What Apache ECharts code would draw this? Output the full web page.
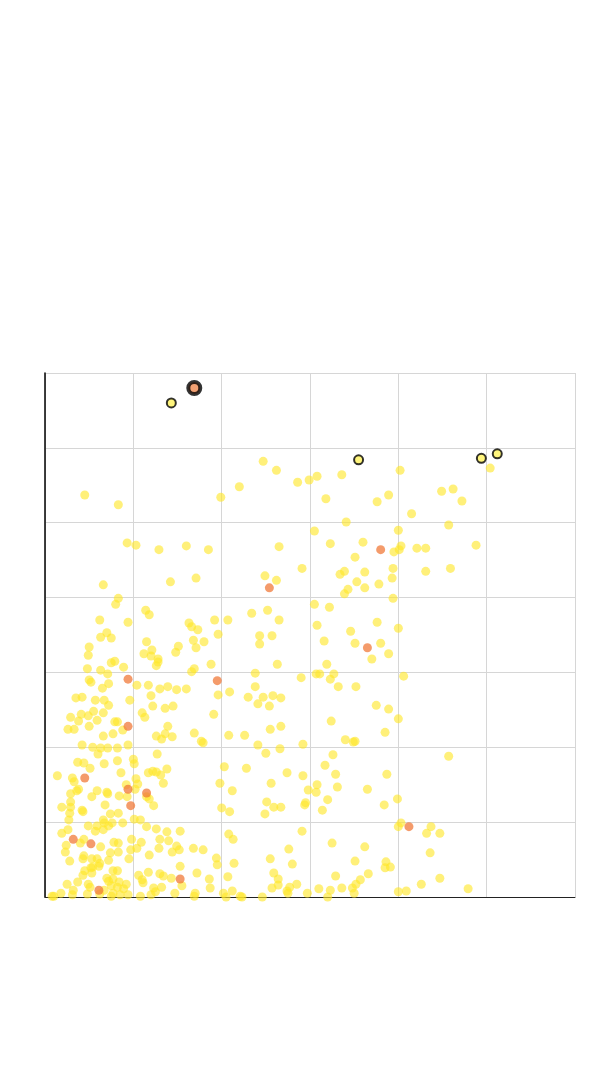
<!DOCTYPE html>
<html>
<head>
<meta charset="utf-8">
<style>
    html, body { margin: 0; padding: 0; background: #fff; }
    #main { width: 608px; height: 1074px; }
</style>
<script src="https://cdn.jsdelivr.net/npm/echarts@6/dist/echarts.min.js"></script>
</head>
<body>
<div id="main"></div>
<script>
// axis ranges
var xMax = 60, xStep = 10;
var yMax = 70, yStep = 10;

// plain points [x, y]
var yellowPoints = [
    [24.7, 58.2], [26.2, 57.0], [50.4, 57.3], [40.2, 57.0], [30.8, 56.2], [29.9, 55.7], [28.6, 55.4], [33.6, 56.4],
    [46.2, 54.5], [44.9, 54.2], [47.2, 52.9], [38.9, 53.7], [37.6, 52.8], [22.0, 54.8], [19.9, 53.4], [4.5, 53.7],
    [8.3, 52.4], [31.8, 53.2], [41.5, 51.2], [34.1, 50.1], [45.7, 49.7],
    [40.0, 49.0], [30.5, 48.9], [40.3, 46.9], [40.1, 46.4], [42.1, 46.6], [43.1, 46.6], [48.8, 47.0], [43.1, 43.5],
    [45.9, 43.9], [32.3, 47.2], [36.0, 47.4], [39.5, 46.1], [35.1, 45.4], [26.5, 46.8], [29.1, 43.9], [33.9, 43.5],
    [33.4, 43.1], [36.2, 43.4], [39.4, 43.9], [24.9, 42.9], [26.2, 42.3], [35.3, 42.1], [37.8, 41.8], [39.3, 42.6],
    [36.2, 41.3], [34.3, 41.1], [33.9, 40.5], [39.4, 39.9], [9.3, 47.3], [10.3, 47.0], [12.9, 46.4], [16.0, 46.9],
    [18.5, 46.4], [6.6, 41.7], [14.2, 42.1], [17.1, 42.6], [8.3, 39.9],
    [8.0, 39.1], [11.4, 38.3], [11.8, 37.7], [6.2, 37.0], [9.4, 36.7], [7.0, 35.3], [6.3, 34.7], [7.5, 34.6],
    [5.0, 33.4], [4.9, 32.3], [11.5, 34.1], [12.1, 33.0], [11.2, 32.5], [12.0, 32.2], [12.8, 31.8], [12.8, 31.4],
    [12.6, 30.9], [15.1, 33.5], [14.8, 32.7], [16.3, 36.6], [16.6, 36.1], [17.3, 35.7], [19.2, 37.0], [19.6, 35.1],
    [16.8, 34.3], [17.1, 33.3], [18.0, 34.1], [18.8, 31.1], [16.9, 30.5], [16.6, 30.1], [4.8, 30.5], [6.3, 30.3],
    [7.1, 29.8], [7.5, 31.3], [7.9, 31.5], [8.9, 30.7], [5.0, 29.0], [5.2, 28.7], [10.4, 28.3], [11.7, 28.3],
    [13.0, 27.8], [13.9, 28.1], [14.9, 27.7], [16.0, 27.8], [19.6, 27.0], [7.2, 28.5], [6.5, 27.9],
    [3.5, 26.6], [4.2, 26.7], [5.7, 26.3], [6.7, 26.3], [7.2, 25.6], [9.6, 26.3], [12.0, 26.9], [12.2, 25.5],
    [13.6, 25.2], [14.5, 25.5], [5.5, 24.8], [6.6, 24.6], [4.1, 24.4], [4.9, 24.2], [2.9, 24.0], [3.8, 23.5],
    [5.9, 23.6], [7.9, 23.4], [8.2, 23.4], [11.0, 24.6], [11.3, 24.0], [19.1, 24.4], [2.6, 22.4], [3.3, 22.4],
    [5.0, 22.8], [8.8, 22.3], [13.9, 22.8], [6.6, 21.5], [7.7, 21.8], [12.6, 21.5], [13.2, 21.1], [13.6, 21.8],
    [14.4, 21.4], [16.9, 21.9], [17.7, 20.8], [17.9, 20.6], [4.2, 20.3], [5.4, 20.0], [6.3, 19.9], [7.1, 19.9],
    [8.2, 19.9], [9.4, 20.3],
    [30.5, 39.1], [32.2, 38.7], [23.4, 37.9], [25.2, 38.3], [20.7, 37.0], [26.5, 37.0], [30.8, 36.3], [24.3, 34.9],
    [25.7, 34.9], [24.3, 33.8], [34.6, 35.5], [37.6, 36.7], [40.0, 35.9], [31.6, 34.2], [35.1, 33.9], [38.0, 33.9],
    [37.0, 31.8], [38.9, 32.5], [26.3, 31.1], [31.9, 31.1], [23.8, 29.9], [29.0, 29.3], [30.7, 29.8], [31.1, 29.8],
    [32.7, 29.8], [32.3, 29.1], [33.2, 28.1], [35.2, 28.1], [23.8, 28.1], [20.9, 27.4], [23.0, 26.7], [24.7, 26.7],
    [25.8, 26.9], [26.7, 26.6], [24.1, 25.8], [25.4, 25.5], [37.5, 25.6], [38.9, 25.1], [40.0, 23.8], [32.4, 23.5],
    [25.5, 22.4], [26.7, 22.8], [38.5, 22.0], [20.8, 21.6], [22.6, 21.6], [34.0, 21.0], [34.9, 20.7], [35.1, 20.8],
    [24.1, 20.3], [29.2, 20.4], [26.6, 19.8], [40.6, 29.5],
    [25.0, 19.2], [32.6, 19.0], [20.3, 17.4], [22.8, 17.2], [31.7, 17.6], [32.9, 16.4], [38.7, 16.4], [27.4, 16.6],
    [29.2, 16.2], [25.6, 15.2], [21.2, 14.2], [19.8, 15.2], [29.8, 14.3], [30.8, 15.0], [30.7, 14.0], [33.1, 14.7],
    [36.5, 14.4], [39.9, 13.1], [25.1, 12.7], [25.9, 12.0], [26.7, 12.0], [29.4, 12.3], [29.5, 12.6], [20.9, 11.4],
    [20.0, 11.9], [24.9, 11.1], [32.0, 13.0], [31.4, 11.6], [38.4, 12.3], [29.1, 8.8], [20.8, 8.4], [21.3, 7.7],
    [32.5, 7.2], [36.2, 6.7], [40.0, 9.4], [27.6, 6.4], [25.5, 5.1], [28.0, 4.4], [21.4, 4.5], [35.1, 4.8],
    [38.6, 4.7], [38.5, 3.9], [39.1, 4.0], [20.7, 2.7], [25.9, 3.2], [26.4, 2.4], [26.4, 1.6], [25.7, 1.2],
    [32.9, 2.8], [36.6, 3.1], [35.7, 2.3], [35.2, 1.7], [34.8, 1.2], [35.0, 0.5], [21.2, 0.8], [27.7, 1.3],
    [28.5, 1.7], [27.4, 0.8], [27.5, 0.5], [31.0, 1.1], [32.3, 0.9], [33.6, 1.2], [40.0, 0.7], [20.2, 0.5],
    [20.5, 0.0], [22.1, 0.1], [22.3, 0.0], [24.6, 0.0], [29.7, 0.5], [32.0, 0.0],
    [45.7, 18.8], [40.3, 9.9], [43.7, 9.4], [43.2, 8.5], [44.7, 8.5], [43.6, 5.9], [44.7, 2.5], [42.6, 1.7],
    [40.9, 0.8], [47.9, 1.1],
    [6.0, 19.1], [12.7, 19.1], [3.7, 18.0], [4.4, 17.9], [6.7, 17.8], [8.2, 18.2], [10.0, 18.4], [10.1, 17.8],
    [1.4, 16.2], [3.1, 15.9], [3.3, 15.4], [5.1, 17.2], [8.6, 16.6], [11.7, 16.6], [12.2, 16.8], [12.6, 16.7],
    [13.1, 16.3], [13.8, 17.1], [10.3, 15.8], [10.5, 15.1], [3.8, 14.4], [3.6, 14.2], [5.9, 14.2], [7.0, 14.0],
    [7.1, 13.8], [2.9, 13.8], [8.4, 13.5], [9.2, 15.0], [9.3, 13.4], [10.2, 14.4], [11.5, 13.4], [11.8, 13.1],
    [13.4, 15.2], [12.3, 12.2], [2.9, 12.7], [2.9, 12.0], [1.9, 12.0], [5.3, 13.4], [6.8, 12.3], [4.2, 11.6],
    [4.3, 11.4], [2.8, 11.2], [7.4, 11.1], [8.3, 11.2], [6.6, 10.3], [7.6, 9.9], [8.8, 9.9], [10.1, 10.4],
    [10.8, 10.3], [2.7, 10.3], [2.6, 9.0], [1.9, 8.5], [4.4, 7.7], [4.0, 7.2], [4.9, 9.5], [5.9, 9.5],
    [6.7, 9.9], [5.7, 8.8], [6.6, 9.0], [7.2, 9.5], [7.8, 7.3], [8.3, 7.2], [2.4, 6.9], [2.3, 6.0],
    [2.8, 4.8], [6.3, 6.7], [7.4, 5.9], [8.3, 6.0], [4.4, 5.5], [4.3, 5.1], [5.3, 5.1], [5.9, 5.1],
    [7.2, 4.9], [9.5, 5.1], [9.8, 7.7], [9.7, 6.3], [10.4, 6.5], [10.9, 7.3], [11.5, 9.4], [12.6, 9.1],
    [13.8, 8.7], [15.3, 8.8], [16.8, 6.5], [17.9, 6.3], [14.9, 6.8], [15.2, 6.3], [13.0, 7.7], [12.9, 6.5],
    [14.0, 7.5], [14.4, 6.0], [11.8, 5.6], [5.2, 3.9], [5.4, 4.0], [6.1, 4.1], [6.2, 4.5], [4.5, 3.5],
    [4.3, 2.9], [5.3, 3.2], [7.7, 3.5], [8.2, 3.5], [2.5, 1.7], [3.2, 0.9], [3.7, 2.0], [4.9, 1.7],
    [5.1, 1.3], [7.0, 2.5], [7.2, 2.1], [7.7, 2.4], [8.4, 2.0], [9.2, 1.7], [7.5, 1.5], [8.2, 1.3],
    [8.9, 1.1], [10.6, 2.9], [11.7, 3.3], [13.0, 3.1], [13.4, 2.8], [14.3, 2.5], [15.3, 4.1], [15.5, 1.5],
    [11.0, 2.3], [11.1, 1.9], [17.2, 3.2], [18.6, 2.4], [19.4, 5.2], [19.5, 4.3], [18.7, 1.2], [17.0, 0.5],
    [16.9, 0.1], [14.7, 0.5], [13.2, 1.3], [12.3, 1.2], [12.5, 0.7], [12.0, 0.3], [10.8, 0.1], [9.4, 0.3],
    [8.5, 0.3], [7.5, 0.1], [6.2, 0.4], [4.8, 0.4], [3.1, 0.3], [1.8, 0.5], [1.0, 0.1], [0.8, 0.1],
    [7.7, 0.5], [6.7, 0.9]
];

var orangePoints = [
    [38.0, 46.4], [25.4, 41.3], [9.4, 29.1], [19.5, 28.9], [9.4, 22.8], [36.5, 33.3], [4.5, 15.9], [9.4, 14.4],
    [11.5, 13.9], [9.7, 12.2], [3.2, 7.7], [5.2, 7.1], [6.1, 0.9], [15.3, 2.4], [41.2, 9.4]
];

// outlined points
var ringPoints = [[14.3, 66.0], [35.5, 58.4], [49.4, 58.6], [51.2, 59.2]];
var topPoint = [[16.9, 68.0]];

init()

function init() {
    var myChart = echarts.init(document.getElementById('main'));
    var option = {
        animation: false,
        grid: {
            left: 45,
            right: 33,
            top: 373,
            bottom: 177
        },
        xAxis: {
            type: 'value',
            min: 0,
            max: xMax,
            interval: xStep,
            axisLine: { show: true, onZero: false, lineStyle: { color: '#222', width: 1 } },
            axisTick: { show: false },
            axisLabel: { show: false },
            splitLine: { lineStyle: { color: '#d6d6d6' } }
        },
        yAxis: {
            type: 'value',
            min: 0,
            max: yMax,
            interval: yStep,
            axisLine: { show: true, onZero: false, lineStyle: { color: '#000', width: 1.5 } },
            axisTick: { show: false },
            axisLabel: { show: false },
            splitLine: { lineStyle: { color: '#d6d6d6' } }
        },
        series: [{
            type: 'scatter',
            data: yellowPoints,
            symbolSize: 9,
            itemStyle: { color: '#ffe629', opacity: 0.62 }
        }, {
            type: 'scatter',
            data: orangePoints,
            symbolSize: 9,
            itemStyle: { color: '#f07a3a', opacity: 0.75 }
        }, {
            type: 'scatter',
            data: ringPoints,
            symbolSize: 9,
            itemStyle: { color: '#fff35c', borderColor: '#000', borderWidth: 2 }
        }, {
            type: 'scatter',
            data: topPoint,
            symbolSize: 12,
            itemStyle: { color: '#f08a50', borderColor: '#000', borderWidth: 4 }
        }]
    };
    myChart.setOption(option);
}
</script>
</body>
</html>
